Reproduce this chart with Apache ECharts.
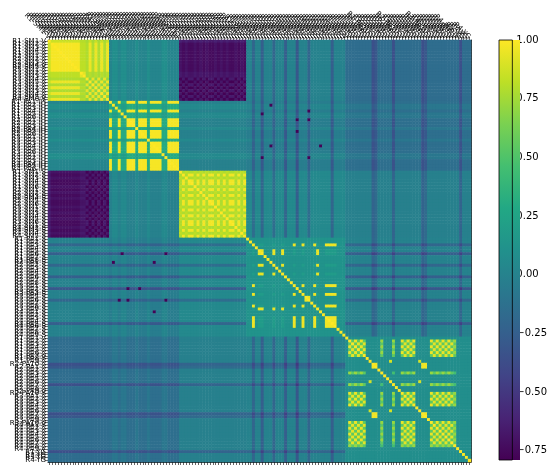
<!DOCTYPE html>
<html><head><meta charset="utf-8">
<script src="https://cdn.jsdelivr.net/npm/echarts@6/dist/echarts.min.js"></script>
<style>html,body{margin:0;padding:0;background:#fff}#c{width:550px;height:472px}</style>
</head><body><div id="c"></div>
<script>
// ---- variable labels (tick labels), in matrix order ----
const labelsA = ["R1-SM1-V","R1-SM2-V","R1-SM3-V","R1-SM4-V","R1-SM5-V","R2-SM1-V","R2-SM2-V","R2-SM3-V","R2-SM4-V","R2-SM5-V","R3-SM1-V","R3-SM2-V","R3-SM3-V","R3-SM4-V","R3-SM5-V","R4-SM1-V","R4-SM2-V","R4-SM3-V","R4-SM4-V","R4-SM5-V","R4-SM6-V"];
const labelsB = ["R1-PA1-IH","R1-PA2-IH","R1-PA3-IH","R1-PA4-IH","R1-PA5-IH","R1-PA6-IH","R2-PA1-IH","R2-PA2-IH","R2-PA3-IH","R2-PA4-IH","R2-PA5-IH","R2-PA6-IH","R3-PA1-IH","R3-PA2-IH","R3-PA3-IH","R3-PA4-IH","R3-PA5-IH","R3-PA6-IH","R4-PA1-IH","R4-PA2-IH","R4-PA3-IH","R4-PA4-IH","R4-PA5-IH","R4-PA6-IH"];
const labelsC = ["R1-SM1-S","R1-SM2-S","R1-SM3-S","R1-SM4-S","R1-SM5-S","R1-SM6-S","R2-SM1-S","R2-SM2-S","R2-SM3-S","R2-SM4-S","R2-SM5-S","R2-SM6-S","R3-SM1-S","R3-SM2-S","R3-SM3-S","R3-SM4-S","R3-SM5-S","R3-SM6-S","R4-SM1-S","R4-SM2-S","R4-SM3-S","R4-SM4-S","R4-SM5-S"];
const labelsD = ["R1-PA1-S","R1-PA2-S","R1-PA3-S","R1-PA4-S","R1-PA5-S","R1-PA6-S","R1-PA7-S","R1-PA8-S","R2-PA1-S","R2-PA2-S","R2-PA3-S","R2-PA4-S","R2-PA5-S","R2-PA6-S","R2-PA7-S","R2-PA8-S","R3-PA1-S","R3-PA2-S","R3-PA3-S","R3-PA4-S","R3-PA5-S","R3-PA6-S","R3-PA7-S","R3-PA8-S","R3-PA9-S","R4-PA1-S","R4-PA2-S","R4-PA3-S","R4-PA4-S","R4-PA5-S","R4-PA6-S","R4-PA7-S","R4-PA8-S","R4-PA9-S"];
const labelsE = ["R1-PA1-V","R1-PA2-V","R1-PA3-V","R1-PA4-V","R1-PA5-V","R1-PA6-V","R1-PA7-V","R1-PA8-V","R1-PA9-V","R1-PA10-V","R2-PA1-V","R2-PA2-V","R2-PA3-V","R2-PA4-V","R2-PA5-V","R2-PA6-V","R2-PA7-V","R2-PA8-V","R2-PA9-V","R2-PA10-V","R3-PA1-V","R3-PA2-V","R3-PA3-V","R3-PA4-V","R3-PA5-V","R3-PA6-V","R3-PA7-V","R3-PA8-V","R3-PA9-V","R3-PA10-V","R4-PA1-V","R4-PA2-V","R4-PA3-V","R4-PA4-V","R4-PA5-V","R4-PA6-V","R4-PA7-V","R4-PA8-V","R4-PA9-V","R1-YG","R2-YG","R3-YG","R4-YG"];

// ---- cluster class of each variable ----
const classA = ["A0","A1","A1","A1","A1","A1","A1","A1","A1","A1","A1","AM","AM","AY","AX","AY","AX","AY","AX","AY","AX"];
const classB = ["B1","B0","B0","B1","B0","B0","B1","B1","B1","B0","B1","B1","B1","B0","B1","B1","B1","B1","B0","B0","B1","B1","B1","B1"];
const classC = ["CY","CX","CY","CX","CX","CY","CX","CY","CX","CY","CX","CX","CY","CX","CY","CX","CY","CX","CX","CY","CX","CY","CX"];
const classD = ["D0","D0","DP","D0","DQ","DQ","D0","D0","D0","DQ","D0","D0","DQ","D0","D0","D0","DP","D0","D0","DP","DR","DR","D0","DP","DQ","D0","D0","DP","DP","DP","DP","D0","D0","D0"];
const classE = ["E0","EX","EY","EX","EY","EX","EY","E0","E3","E2","E2","E0","ES","E0","E0","E3","ES","E0","E0","EX","EY","EX","EY","EX","E0","E3","E2","E2","E0","EX","EY","EX","EY","EX","EY","EX","EY","ES","E0","E0","E0","E0","E0"];

// ---- correlation levels between classes ----
const classLevels = [
 ["A0","A0",1],["A0","A1",0.86],["A0","AM",0.8],["A0","AX",0.85],["A0","AY",0.76],
 ["A1","A1",0.98],["A1","AM",0.82],["A1","AX",0.95],["A1","AY",0.78],
 ["AM","AM",0.93],["AM","AX",0.8],["AM","AY",0.76],
 ["AX","AX",0.96],["AX","AY",0.7],["AY","AY",0.94],
 ["A0","CX",-0.66],["A0","CY",-0.62],["A1","CX",-0.74],["A1","CY",-0.7],["AM","CX",-0.7],["AM","CY",-0.66],
 ["AX","CX",-0.8],["AX","CY",-0.68],["AY","CX",-0.66],["AY","CY",-0.78],
 ["B1","B1",0.98],["B0","B1",0.3],["B0","B0",0.2],
 ["CX","CX",0.97],["CX","CY",0.78],["CY","CY",0.82],
 ["DP","DP",0.96],["DQ","DQ",0.94],["DR","DR",0.95],["DP","DQ",0.18],
 ["EX","EX",0.95],["EY","EY",0.93],["EX","EY",0.55],["E2","E2",0.96],["E3","E3",0.88],
 ["ES","EX",0.72],["ES","EY",0.55],["ES","ES",0.45]
];
// ---- levels between groups (fallback) ----
const groupLevels = [
 ["A","A",0.8],["B","B",0.25],["C","C",0.8],["D","D",0.12],["E","E",0.08],
 ["A","B",0.08],["A","C",-0.72],["A","D",0.0],["A","E",-0.15],
 ["B","C",0.05],["B","D",0.02],["B","E",-0.08],
 ["C","D",0.05],["C","E",-0.02],["D","E",0.0]
];
// ---- darker stripes of single variables across other groups ----
const stripeVars = [[70,-0.2],[73,-0.25],[77,-0.2],[81,-0.25],[85,-0.3],[89,-0.2],[97,-0.25],[111,-0.2],[112,-0.15],[118,-0.2],[128,-0.2],[129,-0.15],[141,-0.2]];
const stripeClasses = [["B1",-0.06]];
// ---- isolated very dark cells ----
const darkCells = [[22,76,-0.78],[24,89,-0.78],[27,89,-0.78],[36,76,-0.78],[36,93,-0.78],[25,73,-0.78],[40,73,-0.78],[27,85,-0.78],[31,85,-0.78],[40,89,-0.78]];
// ---- colorbar ticks ----
const cbarTicks = [-0.75,-0.5,-0.25,0,0.25,0.5,0.75,1.0];
const cbarMin = -0.79, cbarMax = 1.0;

const labels = [].concat(labelsA,labelsB,labelsC,labelsD,labelsE);
const classes = [].concat(classA,classB,classC,classD,classE);
const N = labels.length;
const key = (a,b)=> a<b ? a+'|'+b : b+'|'+a;
const cMap = {}; classLevels.forEach(r=>cMap[key(r[0],r[1])]=r[2]);
const gMap = {}; groupLevels.forEach(r=>gMap[key(r[0],r[1])]=r[2]);
const sMap = {}; stripeVars.forEach(r=>sMap[r[0]]=r[1]);
const scMap = {}; stripeClasses.forEach(r=>scMap[r[0]]=r[1]);
const dMap = {}; darkCells.forEach(r=>{dMap[r[0]+','+r[1]]=r[2];dMap[r[1]+','+r[0]]=r[2];});
function level(i,j){
  if(i===j) return 1;
  if(dMap[i+','+j]!==undefined) return dMap[i+','+j];
  const ci=classes[i], cj=classes[j], gi=ci[0], gj=cj[0];
  const k=key(ci,cj);
  let v = (k in cMap) ? cMap[k] : gMap[key(gi,gj)];
  if(gi!==gj){ v += (sMap[i]||0)+(sMap[j]||0)+(scMap[ci]||0)+(scMap[cj]||0); }
  return Math.max(cbarMin, Math.min(1, v));
}
const data=[];
for(let i=0;i<N;i++) for(let j=0;j<N;j++) data.push([j,i,+level(i,j).toFixed(3)]);

const viridis=['#440154','#482475','#414487','#355f8d','#2a788e','#21918c','#22a884','#44bf70','#7ad151','#bddf26','#fde725'];
const chart = echarts.init(document.getElementById('c'));
const axLine={show:true,lineStyle:{color:'#000',width:0.8}};
const axTick={show:true,alignWithLabel:true,interval:0,length:3,lineStyle:{color:'#000',width:0.6}};
const cbLeft=499, cbTop=40, cbW=21, cbH=420;
chart.setOption({
  animation:false,
  textStyle:{fontFamily:'DejaVu Sans'},
  grid:[{left:48,top:40,width:423,height:422,show:false},
        {left:cbLeft,top:cbTop,width:cbW,height:cbH,show:true,borderColor:'#000',borderWidth:0.8,backgroundColor:'transparent',z:10}],
  graphic:[{type:'rect',left:cbLeft,top:cbTop,z:1,shape:{width:cbW,height:cbH},
    style:{fill:new echarts.graphic.LinearGradient(0,0,0,1,
      viridis.slice().reverse().map((c,k)=>({offset:k/(viridis.length-1),color:c})))}}],
  xAxis:[
    {type:'category',data:labels,gridIndex:0,position:'top',axisLine:axLine,axisTick:axTick,splitLine:{show:false},
     axisLabel:{interval:0,rotate:45,fontSize:7,color:'#000',margin:2,fontFamily:'DejaVu Sans'}},
    {type:'category',data:labels,gridIndex:0,position:'bottom',axisLine:axLine,axisTick:axTick,axisLabel:{show:false},splitLine:{show:false}},
    {type:'value',gridIndex:1,show:false,min:0,max:1}
  ],
  yAxis:[
    {type:'category',data:labels,gridIndex:0,inverse:true,position:'left',axisLine:axLine,axisTick:axTick,splitLine:{show:false},
     axisLabel:{interval:0,fontSize:7,color:'#000',margin:2,fontFamily:'DejaVu Sans'}},
    {type:'category',data:labels,gridIndex:0,inverse:true,position:'right',axisLine:axLine,axisTick:{show:false},axisLabel:{show:false},splitLine:{show:false}},
    {type:'value',gridIndex:1,position:'right',min:cbarMin,max:cbarMax,splitLine:{show:false},axisLine:{show:false},
     axisTick:{show:true,customValues:cbarTicks,length:3.5,lineStyle:{color:'#000',width:0.8}},
     axisLabel:{customValues:cbarTicks,fontSize:10,color:'#000',margin:4,fontFamily:'DejaVu Sans',
       formatter:v=>(v<0?'\u2212':'')+Math.abs(v).toFixed(2)}}
  ],
  visualMap:{type:'continuous',min:cbarMin,max:cbarMax,seriesIndex:0,show:false,inRange:{color:viridis}},
  series:[{type:'heatmap',data:data,xAxisIndex:0,yAxisIndex:0,progressive:0,emphasis:{disabled:true},itemStyle:{borderWidth:0}}]
});
</script></body></html>
